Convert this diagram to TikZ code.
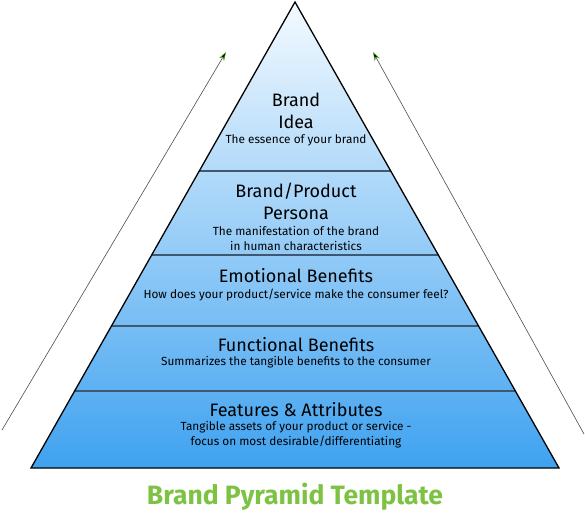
\documentclass[tikz,border=0pt]{standalone}
\usepackage{fontspec}
\setmainfont{Fira Sans}
\usetikzlibrary{arrows.meta}

\definecolor{topblue}{HTML}{F4FAFF}
\definecolor{midblue}{HTML}{9AD2F8}
\definecolor{baseblue}{HTML}{3FA2F0}
\definecolor{bandgray}{HTML}{3D5870}
\definecolor{titlegreen}{HTML}{7DC242}
\definecolor{tipgreen}{HTML}{5CB82E}

\tikzset{
  bandline/.style={draw=bandgray, line width=1.7pt},
  headtext/.style={align=center, font=\fontsize{18}{22}\selectfont, inner sep=0pt},
  subtext/.style={align=center, font=\fontsize{11.8}{15}\selectfont, inner sep=0pt},
  risearrow/.style={draw=black!70, line width=0.6pt,
    -{Stealth[length=9pt, width=6pt, color=tipgreen, fill=black, line width=0.5pt]}}
}

\begin{document}
\begin{tikzpicture}[x=1pt, y=1pt]
\useasboundingbox (0,0) rectangle (585,-515);

\coordinate (apex) at (295,-2);
\coordinate (bl) at (31,-468);
\coordinate (br) at (559,-468);

% pyramid body
\shade[top color=topblue, middle color=midblue, bottom color=baseblue]
  (apex) -- (bl) -- (br) -- cycle;

% band lines
\coordinate (l1) at (199.3,-171); \coordinate (r1) at (390.7,-171);
\coordinate (l2) at (151.7,-255); \coordinate (r2) at (438.3,-255);
\coordinate (l3) at (111.5,-326); \coordinate (r3) at (478.5,-326);
\coordinate (l4) at (74.6,-391);  \coordinate (r4) at (515.4,-391);
\draw[bandline] (l1) -- (r1);
\draw[bandline] (l2) -- (r2);
\draw[bandline] (l3) -- (r3);
\draw[bandline] (l4) -- (r4);

\draw[line width=1.3pt, line join=miter] (apex) -- (bl) -- (br) -- cycle;

% texts
\node[headtext] (idea) at (296,-111) {Brand\\Idea};
\node[subtext] (ideasub) at (296,-140) {The essence of your brand};

\node[headtext] (persona) at (296,-201) {Brand/Product\\Persona};
\node[subtext] (personasub) at (296,-238) {The manifestation of the brand\\in human characteristics};

\node[headtext] (emotional) at (296,-276) {Emotional Benefits};
\node[subtext] (emotionalsub) at (296,-295) {How does your product/service make the consumer feel?};

\node[headtext] (functional) at (296,-345) {Functional Benefits};
\node[subtext] (functionalsub) at (296,-362) {Summarizes the tangible benefits to the consumer};

\node[headtext] (features) at (296,-410) {Features \& Attributes};
\node[subtext] (featuressub) at (296,-435) {Tangible assets of your product or service -\\focus on most desirable/differentiating};

\node[font=\fontsize{26.5}{30}\selectfont\bfseries, text=titlegreen, inner sep=0pt] (title) at (295,-497) {Brand Pyramid Template};

% side arrows
\coordinate (lstart) at (2,-430);
\coordinate (lend) at (226,-52);
\coordinate (rstart) at (584,-434);
\coordinate (rend) at (373,-52);
\draw[risearrow] (lstart) -- (lend);
\draw[risearrow] (rstart) -- (rend);

\end{tikzpicture}
\end{document}
